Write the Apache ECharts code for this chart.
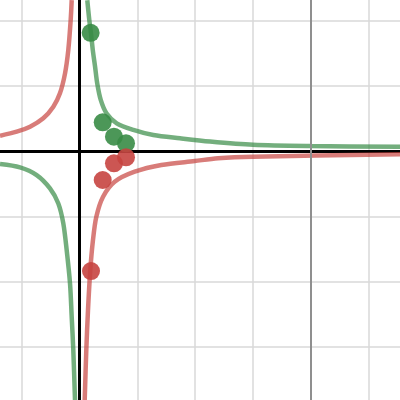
<!DOCTYPE html>
<html>
<head>
<meta charset="utf-8">
<script src="https://cdn.jsdelivr.net/npm/echarts@6/dist/echarts.min.js"></script>
<style>
  html, body { margin: 0; padding: 0; background: #fff; }
  #chart { width: 400px; height: 400px; }
</style>
</head>
<body>
<div id="chart"></div>
<script>
// curve points (x, y)
const greenRight = [
  [0.69, 2.32], [0.86, 2.02], [1.01, 1.81], [1.16, 1.56], [1.36, 1.30],
  [1.55, 1.04], [1.85, 0.79], [2.36, 0.58], [3.23, 0.43], [4.66, 0.33],
  [6.39, 0.25], [8.69, 0.20], [11.28, 0.15], [14.99, 0.10], [19.9, 0.081],
  [27.7, 0.071]
];
const greenLeft = [
  [-6.84, -0.195], [-5.12, -0.246], [-3.68, -0.364], [-2.53, -0.568],
  [-1.81, -0.80], [-1.38, -1.105], [-1.09, -1.515], [-0.80, -2.03],
  [-0.656, -2.54], [-0.518, -3.05], [-0.371, -3.82]
];
const redLeft = [
  [-0.656, 2.32], [-0.742, 2.02], [-0.949, 1.555], [-1.23, 1.197],
  [-1.67, 0.89], [-2.24, 0.685], [-3.11, 0.507], [-4.25, 0.378],
  [-5.40, 0.301], [-6.84, 0.239]
];
const redRight = [
  [0.466, -3.82], [0.604, -3.05], [0.751, -2.436], [0.949, -1.822],
  [1.18, -1.362], [1.47, -1.004], [2.05, -0.697], [3.05, -0.467],
  [4.78, -0.313], [7.08, -0.21], [9.96, -0.149], [11.97, -0.107],
  [14.99, -0.083], [27.7, -0.046]
];
const greenPoints = [[0.98, 1.82], [2.02, 0.445], [2.99, 0.224], [4.03, 0.123]];
const redPoints = [[4.03, -0.092], [2.99, -0.184], [2.02, -0.44], [1.01, -1.838]];
const markX = [20];

const GREEN = '#388c46';
const RED = '#c74440';

const curve = (data, color) => ({
  type: 'line',
  data: data,
  smooth: 0.3,
  showSymbol: false,
  silent: true,
  lineStyle: { color: color, width: 4.5, opacity: 0.7 },
  z: 3
});

const dots = (data, color, z) => ({
  type: 'scatter',
  data: data,
  symbolSize: 18,
  silent: true,
  itemStyle: { color: color, opacity: 0.9 },
  z: z
});

const chart = echarts.init(document.getElementById('chart'));
chart.setOption({
  animation: false,
  // grid runs past the canvas so the axes can start on whole ticks
  grid: {
    left: -36.6, right: -27, top: -44.1, bottom: -11.9,
    containLabel: false, outerBoundsMode: 'none'
  },
  xAxis: {
    type: 'value', min: -10, max: 30, interval: 5,
    axisLine: { onZero: true, lineStyle: { color: '#000', width: 3 } },
    axisTick: { show: false }, axisLabel: { show: false },
    splitLine: { lineStyle: { color: '#d8d8d8', width: 1.5 } }
  },
  yAxis: {
    type: 'value', min: -4, max: 3, interval: 1,
    axisLine: { onZero: true, lineStyle: { color: '#000', width: 3 } },
    axisTick: { show: false }, axisLabel: { show: false },
    splitLine: { lineStyle: { color: '#d8d8d8', width: 1.5 } }
  },
  series: [
    {
      type: 'line', data: [], silent: true,
      markLine: {
        silent: true, symbol: 'none', label: { show: false },
        lineStyle: { color: '#8f8f8f', width: 2, type: 'solid' },
        data: markX.map(v => ({ xAxis: v }))
      }
    },
    curve(greenRight, GREEN),
    curve(greenLeft, GREEN),
    curve(redLeft, RED),
    curve(redRight, RED),
    dots(greenPoints, GREEN, 4),
    dots(redPoints, RED, 5)
  ]
});
</script>
</body>
</html>
